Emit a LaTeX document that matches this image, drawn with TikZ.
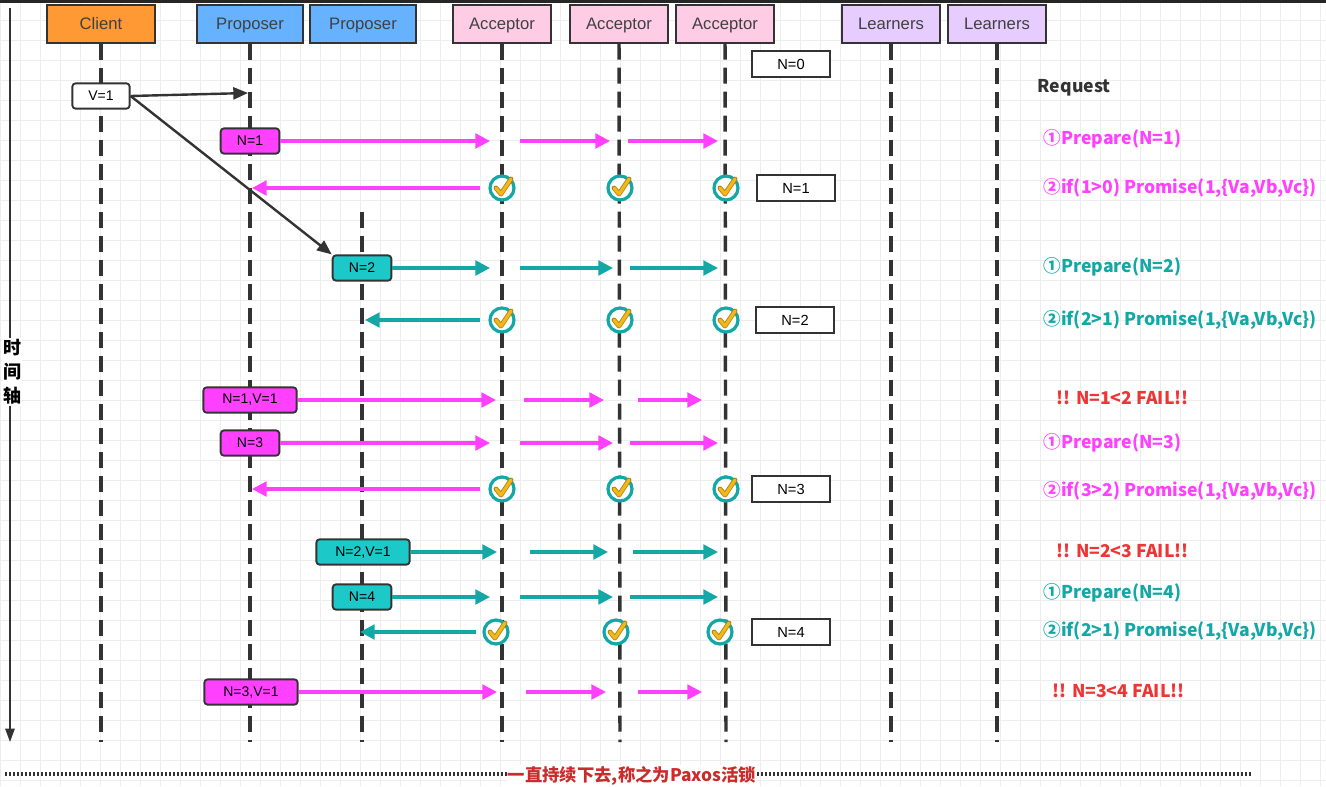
\documentclass[tikz,border=0pt]{standalone}
\usepackage{fontspec}
\setmainfont{Liberation Sans}
\newfontfamily\cjk{Noto Sans CJK SC}
\usetikzlibrary{positioning,arrows.meta}
\definecolor{pmag}{HTML}{FF40FF}
\definecolor{pteal}{HTML}{13A8A6}
\definecolor{bteal}{HTML}{1CC8C8}
\definecolor{fred}{HTML}{F03333}
\definecolor{gold}{HTML}{F2B818}
\definecolor{dk}{HTML}{333333}

\tikzset{
  hdr/.style={draw=dk, line width=1.6pt, minimum width=75pt, minimum height=28pt, text height=1.6ex, text depth=0.1ex, font=\fontsize{12.5}{14}\selectfont, text=black!75},
  life/.style={dk, line width=2.6pt, dash pattern=on 12pt off 6pt},
  box/.style={draw=dk, line width=1.4pt, rounded corners=2.5pt, minimum height=19pt, inner sep=1pt, font=\fontsize{10.5}{12}\selectfont},
  nbox/.style={draw=dk, line width=1.4pt, minimum width=58pt, minimum height=19pt, font=\fontsize{11}{13}\selectfont, fill=white},
  msg/.style={line width=2.4pt, -{Triangle[length=11pt, width=11pt]}},
  chk/.style={circle, draw=pteal, line width=2.4pt, minimum size=18pt, inner sep=0pt, fill=white},
  note/.style={anchor=west, font=\cjk\bfseries\fontsize{13.2}{15}\selectfont}
}

\begin{document}
\begin{tikzpicture}[x=0.75pt, y=-0.75pt]
  \useasboundingbox (0,0) rectangle (1326,786);
  % background grid
  \foreach \x in {0,20,...,1326}
    \draw[black!7, line width=0.5pt] (\x,0) -- (\x,786);
  \foreach \y in {0,20,...,786}
    \draw[black!7, line width=0.5pt] (0,\y) -- (1326,\y);
  \fill[black!85] (0,0) rectangle (1326,3);

  % actors
  \node[hdr, fill={rgb,255:red,255;green,153;blue,51}, minimum width=81pt] (client) at (101,24) {Client};
  \node[hdr, fill={rgb,255:red,102;green,178;blue,255}, minimum width=80pt] (prop1) at (250,24) {Proposer};
  \node[hdr, fill={rgb,255:red,102;green,178;blue,255}, minimum width=80pt] (prop2) at (363,24) {Proposer};
  \foreach \nm/\x in {acc1/502, acc2/619, acc3/725}
    \node[hdr, fill={rgb,255:red,255;green,204;blue,230}, minimum width=73pt] (\nm) at (\x,24) {Acceptor};
  \foreach \nm/\x in {lrn1/891, lrn2/997}
    \node[hdr, fill={rgb,255:red,230;green,204;blue,255}, minimum width=73pt] (\nm) at (\x,24) {Learners};

  % lifelines
  \foreach \nm/\x in {client/101, prop1/250, acc1/502, acc2/620, acc3/726, lrn1/891, lrn2/997}
    {\coordinate (\nm end) at (\x,742); \draw[life] (\nm.south) -- (\nm end);}
  \coordinate (prop2top) at (362,212);
  \coordinate (prop2end) at (362,742);
  \draw[life] (prop2top) -- (prop2end);

  % time axis
  \coordinate (ttop) at (10,8);
  \coordinate (tbot) at (10,742);
  \draw[dk, line width=1.2pt, -{Triangle[length=10pt, width=7pt]}] (ttop) -- (tbot);
  \node[fill=white, inner sep=1pt, font=\cjk\bfseries\fontsize{13.5}{18}\selectfont, align=center] (taxis) at (12,372) {时\\间\\轴};

  % client request
  \node[box, fill=white, minimum width=43pt] (v1) at (101,96) {V=1};
  \coordinate (v1p) at (248,93);
  \draw[dk, line width=1.8pt, -{Triangle[length=11pt, width=9pt]}] (v1.east) -- (v1p);

  % proposals
  \node[box, fill=pmag, minimum width=44pt] (n1) at (250,141) {N=1};
  \node[box, fill=bteal, minimum width=44pt] (n2) at (362,268) {N=2};
  \node[box, fill=pmag, minimum width=70pt] (n1v1) at (250,400) {N=1,V=1};
  \node[box, fill=pmag, minimum width=44pt] (n3) at (250,443) {N=3};
  \node[box, fill=bteal, minimum width=70pt] (n2v1) at (363,552) {N=2,V=1};
  \node[box, fill=bteal, minimum width=44pt] (n4) at (362,597) {N=4};
  \node[box, fill=pmag, minimum width=70pt] (n3v1) at (251,692) {N=3,V=1};
  \draw[dk, line width=1.8pt, -{Triangle[length=11pt, width=9pt]}] (v1.east) -- (n2.north west);

  \foreach \nm/\col/\y/\a/\b/\c/\d/\e in {
      n1/pmag/141/490/520/610/628/718,
      n2/pteal/268/490/520/613/630/718,
      n1v1/pmag/400/496/524/604/638/702,
      n3/pmag/443/490/520/613/630/718,
      n2v1/pteal/552/497/530/608/633/718,
      n4/pteal/597/490/520/613/630/718,
      n3v1/pmag/692/497/526/606/638/702}
  {
    \coordinate (\nm a) at (\a,\y);
    \coordinate (\nm b) at (\b,\y);
    \coordinate (\nm c) at (\c,\y);
    \coordinate (\nm d) at (\d,\y);
    \coordinate (\nm e) at (\e,\y);
    \draw[msg, \col] (\nm.east) -- (\nm a);
    \draw[msg, \col] (\nm b) -- (\nm c);
    \draw[msg, \col] (\nm d) -- (\nm e);
  }

  % promises
  \foreach \r/\col/\y/\s/\t/\xa/\xb/\xc/\nx/\lab in {
      1/pmag/188/480/252/502/620/726/796/N=1,
      2/pteal/320/480/365/502/620/726/795/N=2,
      3/pmag/489/480/252/502/620/726/791/N=3,
      4/pteal/632/476/360/496/616/720/791/N=4}
  {
    \coordinate (ps\r) at (\s,\y);
    \coordinate (pt\r) at (\t,\y);
    \draw[msg, \col] (ps\r) -- (pt\r);
    \foreach \k/\x in {1/\xa, 2/\xb, 3/\xc}
    {
      \node[chk] (ck\r\k) at (\x,\y) {};
      \draw[gold!70!black, line width=3.6pt, line cap=round, line join=round]
        ([shift={(-6,0)}]ck\r\k.center) -- ([shift={(-1,6)}]ck\r\k.center) -- ([shift={(9,-9)}]ck\r\k.center);
      \draw[gold, line width=2.4pt, line cap=round, line join=round]
        ([shift={(-6,0)}]ck\r\k.center) -- ([shift={(-1,6)}]ck\r\k.center) -- ([shift={(9,-9)}]ck\r\k.center);
    }
    \node[nbox] (acc\r) at (\nx,\y) {\lab};
  }
  \node[nbox] (acc0) at (791,64) {N=0};

  % notes
  \node[note, text=dk] (req) at (1033,88) {Request};
  \node[note, text=pmag] (t1) at (1039,139) {①Prepare(N=1)};
  \node[note, text=pmag] (t2) at (1039,188) {②if(1>0) Promise(1,\{Va,Vb,Vc\})};
  \node[note, text=pteal] (t3) at (1039,267) {①Prepare(N=2)};
  \node[note, text=pteal] (t4) at (1039,320) {②if(2>1) Promise(1,\{Va,Vb,Vc\})};
  \node[note, text=fred] (t5) at (1052,398) {!! N=1<2 FAIL!!};
  \node[note, text=pmag] (t6) at (1039,443) {①Prepare(N=3)};
  \node[note, text=pmag] (t7) at (1039,491) {②if(3>2) Promise(1,\{Va,Vb,Vc\})};
  \node[note, text=fred] (t8) at (1052,551) {!! N=2<3 FAIL!!};
  \node[note, text=pteal] (t9) at (1039,593) {①Prepare(N=4)};
  \node[note, text=pteal] (t10) at (1039,631) {②if(2>1) Promise(1,\{Va,Vb,Vc\})};
  \node[note, text=fred] (t11) at (1048,691) {!! N=3<4 FAIL!!};

  % bottom
  \coordinate (bl) at (5,774);
  \coordinate (br) at (1252,774);
  \draw[dk, line width=2.8pt, dash pattern=on 1.5pt off 1.5pt] (bl) -- (br);
  \node[fill=white, inner sep=1pt, text=fred!85!black, font=\cjk\bfseries\fontsize{13}{15}\selectfont] (live) at (632,776) {一直持续下去,称之为Paxos活锁};
\end{tikzpicture}
\end{document}
